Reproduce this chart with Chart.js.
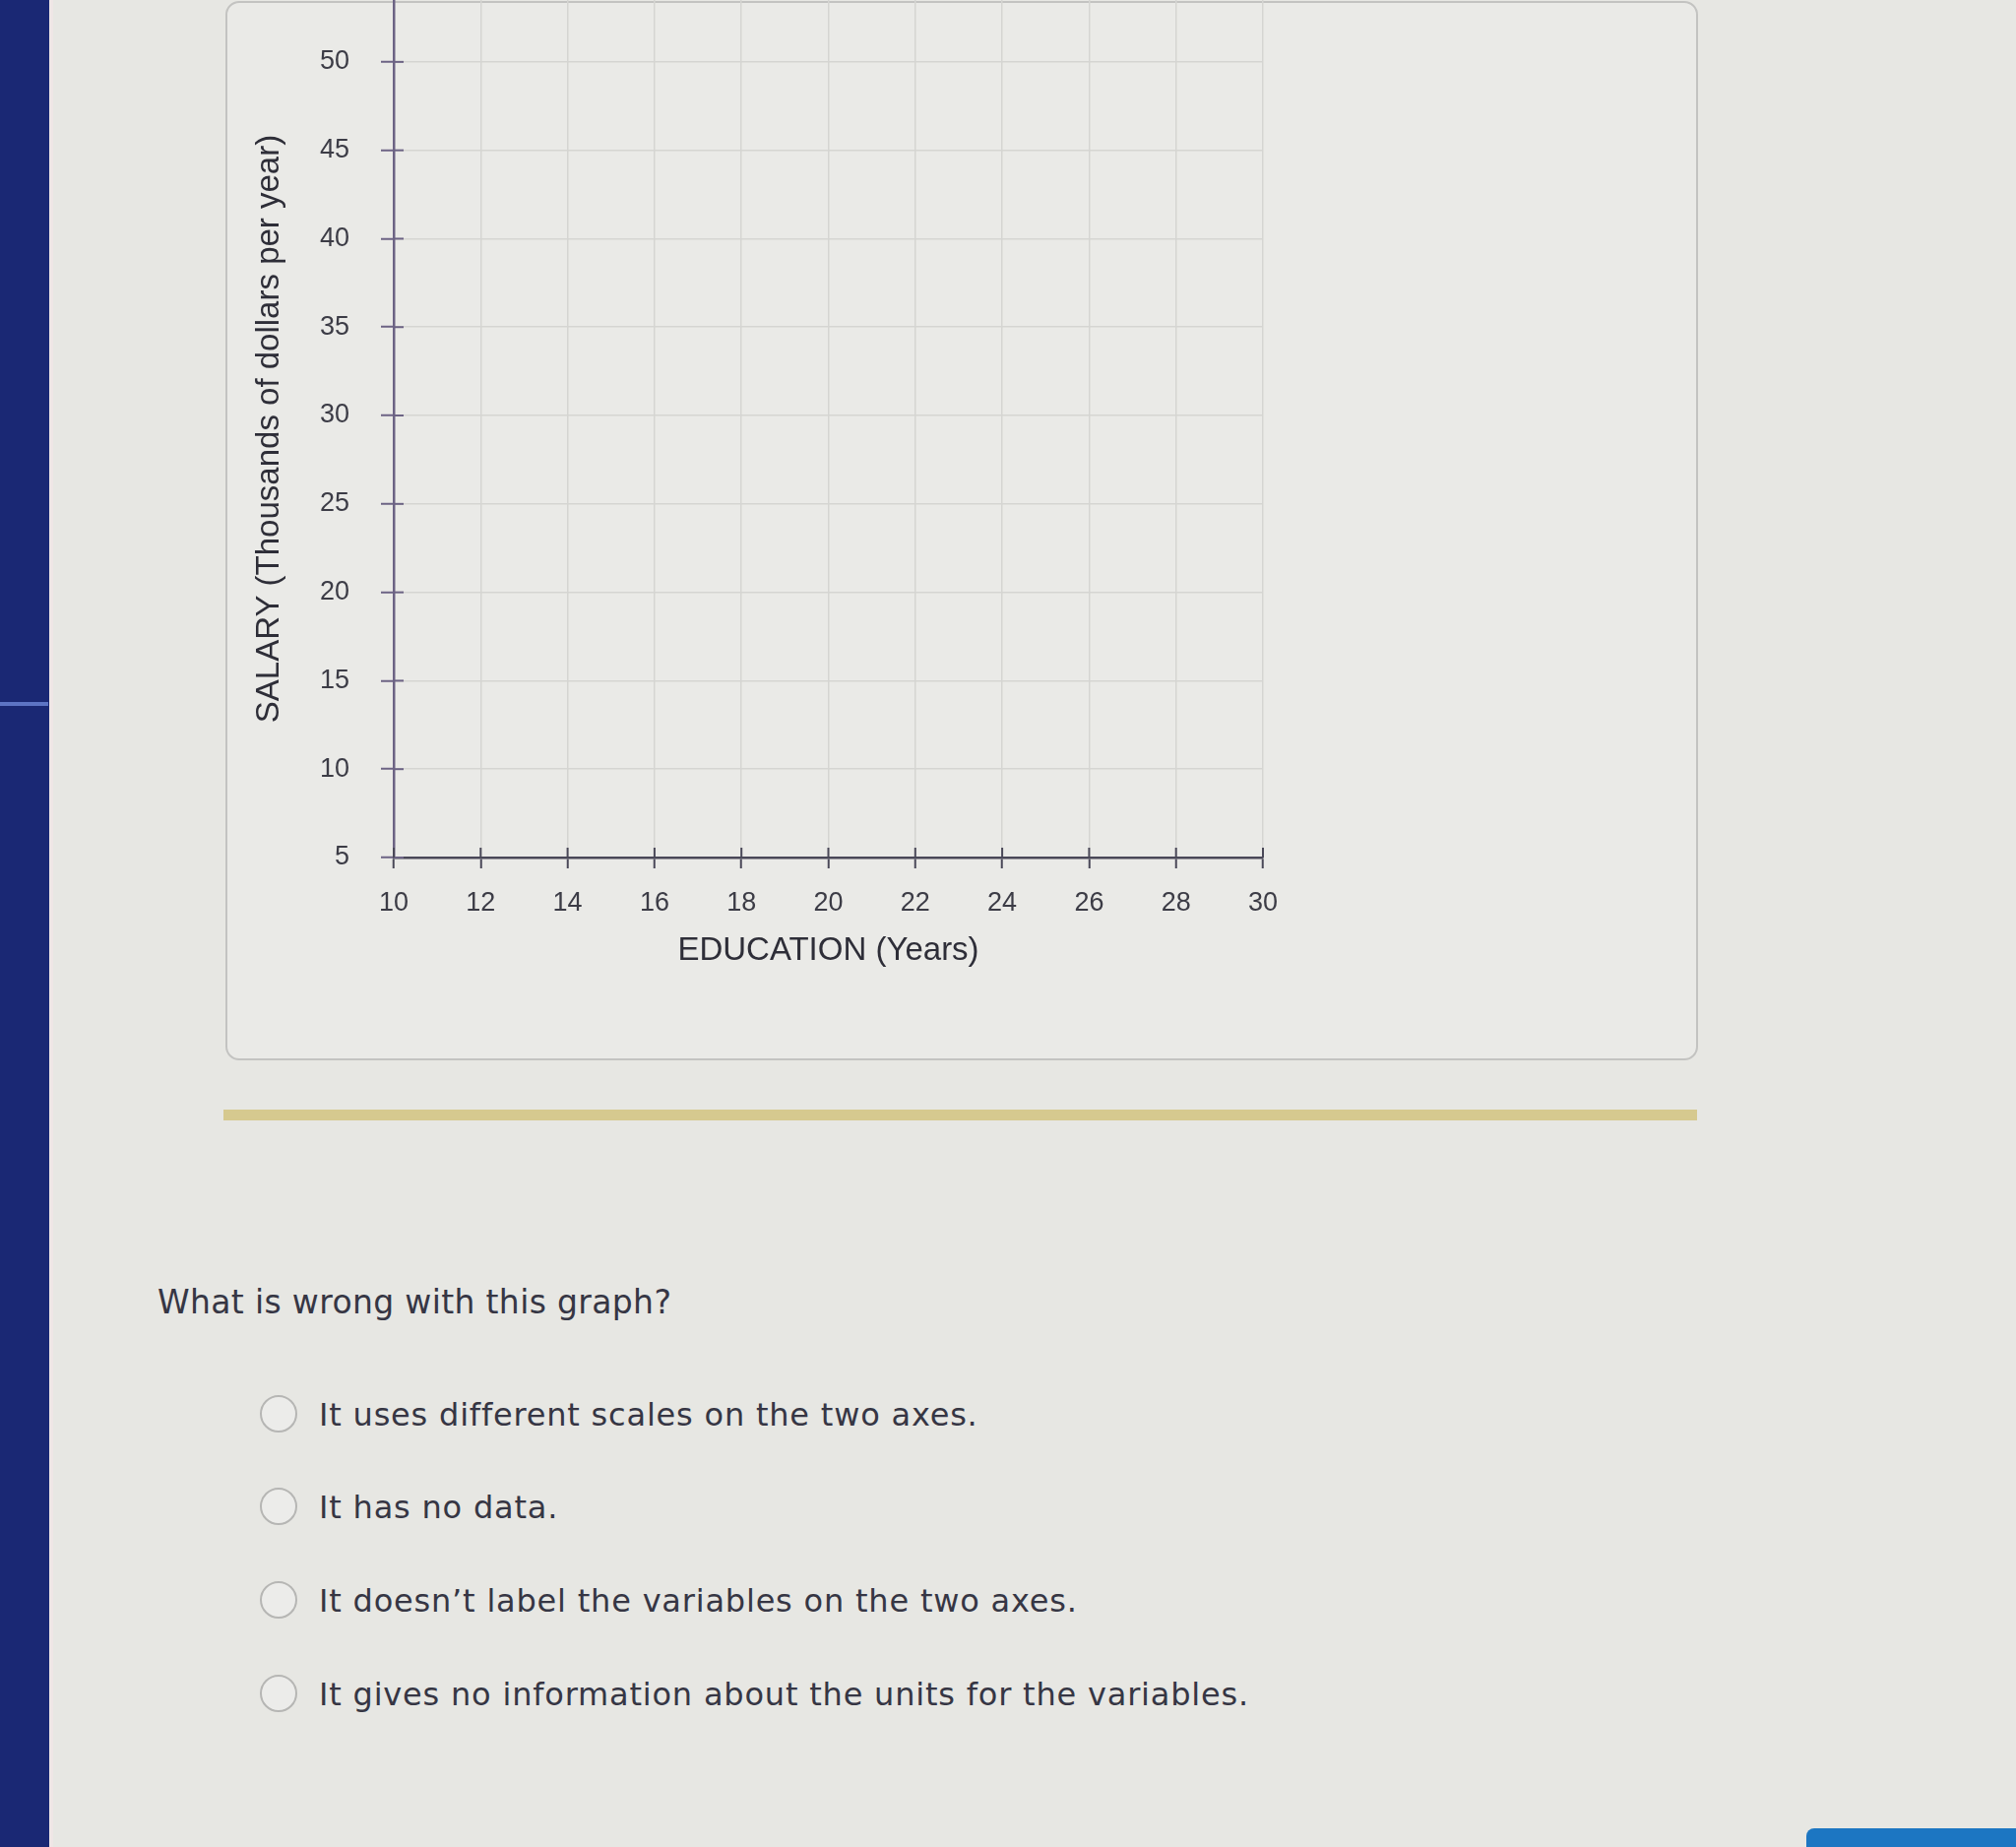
<!DOCTYPE html>
<html>
<head>
<meta charset="utf-8">
<script src="https://cdn.jsdelivr.net/npm/chart.js@4"></script>
<style>
  html, body { margin: 0; padding: 0; }
  body { width: 2048px; height: 1876px; background: #e7e7e3; position: relative; overflow: hidden; font-family: "DejaVu Sans", Verdana, sans-serif; }
  #leftbar { position: absolute; left: 0; top: 0; width: 50px; height: 1876px; background: #1a2874; }
  #leftedge { position: absolute; left: 50px; top: 0; width: 4px; height: 1876px; background: #efe6e6; }
  #stripe { position: absolute; left: 0; top: 713px; width: 49px; height: 4px; background: #5d74c4; }
  #box { position: absolute; left: 229px; top: 1px; width: 1496px; height: 1076px; border: 2px solid #c3c3c1; border-radius: 14px; background: #eaeae7; box-sizing: border-box; }
  #wrap { position: absolute; left: 230px; top: 0; width: 1495px; height: 1075px; }
  #rule { position: absolute; left: 227px; top: 1127px; width: 1497px; height: 11px; background: #d6c98f; }
  #question { position: absolute; left: 160px; top: 1306px; font-size: 33px; line-height: 33px; letter-spacing: 0.35px; color: #363644; white-space: nowrap; }
  .opt { position: absolute; left: 264px; height: 40px; display: flex; align-items: center; white-space: nowrap; }
  .radio { width: 38px; height: 38px; border: 2px solid #b6b6b4; border-radius: 50%; background: #ececea; box-sizing: border-box; margin-right: 22px; }
  .opt span { font-size: 32px; letter-spacing: 0.8px; color: #363644; position: relative; top: 1px; }
  #btn { position: absolute; left: 1835px; top: 1857px; width: 240px; height: 40px; background: #1c76c2; border-radius: 8px; }
</style>
</head>
<body>
<div id="leftbar"></div>
<div id="leftedge"></div>
<div id="stripe"></div>
<div id="box"></div>
<div id="wrap"><canvas id="c"></canvas></div>
<div id="rule"></div>
<div id="question">What is wrong with this graph?</div>
<div class="opt" style="top:1416px"><div class="radio"></div><span>It uses different scales on the two axes.</span></div>
<div class="opt" style="top:1510px"><div class="radio"></div><span>It has no data.</span></div>
<div class="opt" style="top:1605px"><div class="radio"></div><span>It doesn’t label the variables on the two axes.</span></div>
<div class="opt" style="top:1700px"><div class="radio"></div><span>It gives no information about the units for the variables.</span></div>
<div id="btn"></div>
<script>
// Data (the graph intentionally has no data points)
const educationYears = [];
const salaries = [];
const xTickValues = [10, 12, 14, 16, 18, 20, 22, 24, 26, 28, 30];
const yTickValues = [5, 10, 15, 20, 25, 30, 35, 40, 45, 50];
const xTitle = 'EDUCATION (Years)';
const yTitle = 'SALARY (Thousands of dollars per year)';

const xAxisColor = '#4a4858';
const yAxisColor = '#6c6384';
const gridColor = '#d5d5d2';
const labelFont = { family: '"Liberation Sans", Arial, sans-serif', size: 27 };
const titleFont = { family: '"Liberation Sans", Arial, sans-serif', size: 33, lineHeight: 1.2 };

const crossTicks = {
  id: 'crossTicks',
  afterDraw(chart) {
    const { ctx } = chart;
    const x = chart.scales.x, y = chart.scales.y;
    ctx.save();
    ctx.lineWidth = 2;
    ctx.strokeStyle = yAxisColor;
    y.ticks.forEach(t => {
      const py = y.getPixelForValue(t.value);
      ctx.beginPath(); ctx.moveTo(x.left, py); ctx.lineTo(x.left + 10, py); ctx.stroke();
    });
    ctx.strokeStyle = xAxisColor;
    x.ticks.forEach(t => {
      const px = x.getPixelForValue(t.value);
      ctx.beginPath(); ctx.moveTo(px, y.bottom); ctx.lineTo(px, y.bottom - 10); ctx.stroke();
    });
    ctx.restore();
  }
};

const points = educationYears.map((e, i) => ({ x: e, y: salaries[i] }));

new Chart(document.getElementById('c'), {
  type: 'scatter',
  data: { datasets: [{ data: points, backgroundColor: '#333', pointRadius: 5 }] },
  options: {
    responsive: true,
    maintainAspectRatio: false,
    animation: false,
    events: [],
    layout: { padding: { left: 0, right: 442, top: 0, bottom: 74 } },
    plugins: { legend: { display: false }, tooltip: { enabled: false } },
    scales: {
      x: {
        type: 'linear', min: 10, max: 30,
        afterBuildTicks: s => { s.ticks = xTickValues.map(v => ({ value: v })); },
        afterFit: s => { s.height = 130; s.paddingLeft = 0; s.paddingRight = 0; },
        grid: { color: gridColor, lineWidth: 1.5, tickColor: xAxisColor, tickLength: 11, tickWidth: 2 },
        border: { color: xAxisColor, width: 2.5 },
        ticks: { font: labelFont, color: '#3c3c46', padding: 19, maxRotation: 0, autoSkip: false },
        title: { display: true, text: xTitle, font: titleFont, color: '#2e2e38', padding: { top: 0, bottom: 15 } }
      },
      y: {
        type: 'linear', min: 5, max: 53.5,
        afterBuildTicks: s => { s.ticks = yTickValues.map(v => ({ value: v })); },
        afterFit: s => { s.width = 170; s.paddingTop = 0; s.paddingBottom = 0; },
        grid: { color: gridColor, lineWidth: 1.5, tickColor: yAxisColor, tickLength: 13, tickWidth: 2 },
        border: { color: yAxisColor, width: 2.5 },
        ticks: { font: labelFont, color: '#3c3c46', padding: 32, autoSkip: false },
        title: { display: true, text: yTitle, font: titleFont, color: '#2e2e38', padding: { top: 24, bottom: 0 } }
      }
    }
  },
  plugins: [crossTicks]
});
</script>
</body>
</html>
